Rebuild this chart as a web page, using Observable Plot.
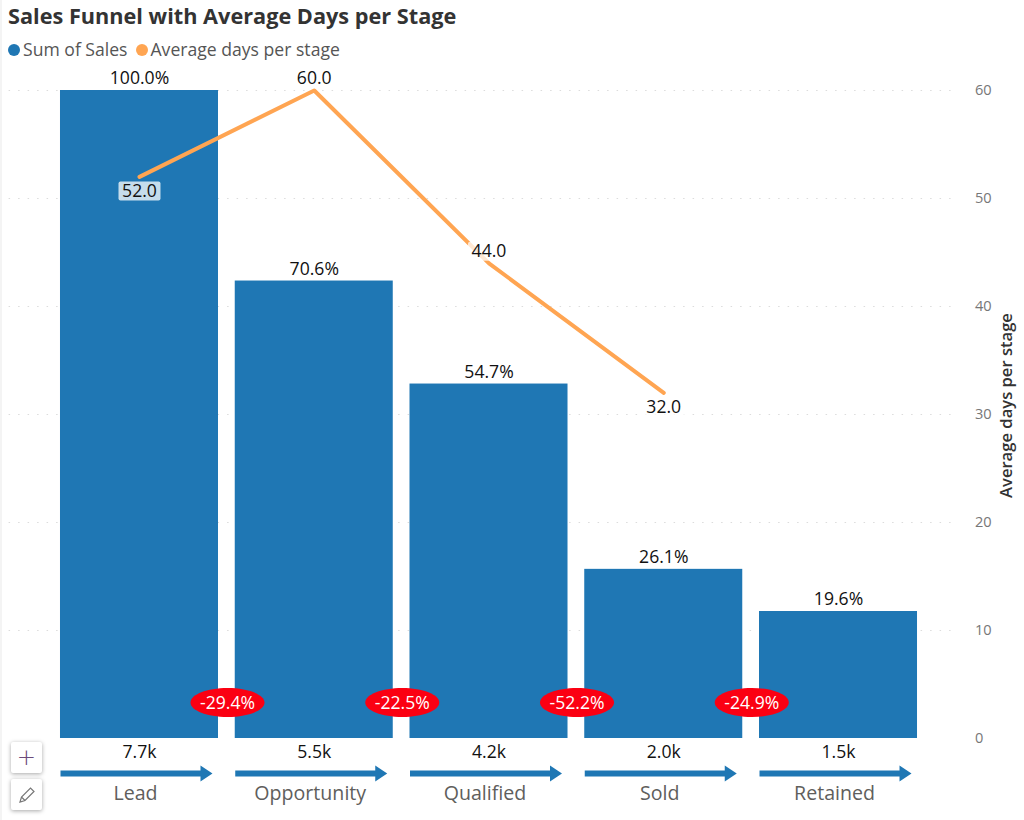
<!DOCTYPE html>
<html>
<head>
<meta charset="utf-8">
<script src="https://cdn.jsdelivr.net/npm/d3@7"></script>
<script src="https://cdn.jsdelivr.net/npm/@observablehq/plot@0.6"></script>
<style>
html,body{margin:0;padding:0;background:#fff;width:1024px;height:820px;overflow:hidden;font-family:"Open Sans",sans-serif}
#wrap{position:relative;width:1024px;height:820px}
#edge{position:absolute;left:0;top:0;width:2px;height:820px;background:#f4f4f4}
#title{position:absolute;left:8px;top:2px;font-size:21.7px;font-weight:700;color:#333;line-height:28px;white-space:nowrap}
#legend{position:absolute;left:8px;top:38px;font-size:17.6px;color:#555;line-height:23px;white-space:nowrap}
#legend i{display:inline-block;width:12px;height:12px;border-radius:50%;margin-right:3px;vertical-align:0px}
#legend span{margin-right:8px}
#chart{position:absolute;left:0;top:64px}
.btn{position:absolute;left:11px;width:31px;height:31px;background:#fff;box-shadow:0 1px 4px rgba(0,0,0,.35);border-radius:2px;display:flex;align-items:center;justify-content:center;color:#6b4a7a;font-size:23px;line-height:1;font-family:"DejaVu Sans",sans-serif;font-weight:300}
</style>
</head>
<body>
<div id="wrap">
<div id="edge"></div>
<div id="title">Sales Funnel with Average Days per Stage</div>
<div id="legend"><span><i style="background:#1f77b4"></i>Sum of Sales</span><span><i style="background:#ffa552"></i>Average days per stage</span></div>
<div id="chart"></div>
<div class="btn" style="top:742px">+</div>
<div class="btn" style="top:779px"><svg width="18" height="18" viewBox="0 0 18 18" fill="none" stroke="#777" stroke-width="1.2"><path d="M2 16 L3.5 11 L12.5 2 L16 5.5 L7 14.5 Z M3.5 11 L7 14.5"/></svg></div>
</div>
<script>
const stages = ["Lead","Opportunity","Qualified","Sold","Retained"];
const sales = [7700,5436,4212,2010,1509];
const salesLabels = ["7.7k","5.5k","4.2k","2.0k","1.5k"];
const shares = ["100.0%","70.6%","54.7%","26.1%","19.6%"];
const changes = ["-29.4%","-22.5%","-52.2%","-24.9%",null];
const days = [52,60,44,32,null];
const labelsBelowPoint = ["Lead","Sold"];
const yTicks = [0,10,20,30,40,50,60];

const rows = stages.map((stage,i)=>({stage,sales:sales[i],salesLabel:salesLabels[i],share:shares[i],change:changes[i],days:days[i]}));
const barHeight = d => d.sales/d3.max(sales)*60;   // bars fill the shared 0-60 axis

const ellipse = {draw(c){
  const a=37,b=14.5,k=.5523;
  c.moveTo(-a,0);
  c.bezierCurveTo(-a,-k*b,-k*a,-b,0,-b);
  c.bezierCurveTo(k*a,-b,a,-k*b,a,0);
  c.bezierCurveTo(a,k*b,k*a,b,0,b);
  c.bezierCurveTo(-k*a,b,-a,k*b,-a,0);
  c.closePath();
}};
const arrowShape = {draw(c){
  c.moveTo(-79,-3);c.lineTo(61,-3);c.lineTo(61,-8);c.lineTo(73,0);
  c.lineTo(61,8);c.lineTo(61,3);c.lineTo(-79,3);c.closePath();
}};
const labelBox = {draw(c){
  const w=21,h=9.5,r=2;
  c.moveTo(-w+r,-h);c.lineTo(w-r,-h);c.arcTo(w,-h,w,-h+r,r);c.lineTo(w,h-r);c.arcTo(w,h,w-r,h,r);
  c.lineTo(-w+r,h);c.arcTo(-w,h,-w,h-r,r);c.lineTo(-w,-h+r);c.arcTo(-w,-h,-w+r,-h,r);c.closePath();
}};

const withDays = rows.filter(d=>d.days!=null);
const below = withDays.filter(d=>labelsBelowPoint.includes(d.stage));
const above = withDays.filter(d=>!labelsBelowPoint.includes(d.stage));
const withChange = rows.filter(d=>d.change!=null);
const dayLabels = (data,dy)=>[
  Plot.dot(data,{x:"stage",y:"days",dy,symbol:labelBox,fill:"#fff",fillOpacity:.75,stroke:null}),
  Plot.text(data,{x:"stage",y:"days",dy,text:d=>d.days.toFixed(1),fontSize:17.6,fill:"#111"})
];

const plot = Plot.plot({
  width:1024,height:756,
  marginTop:26,marginBottom:82,marginLeft:51.6,marginRight:98.6,
  style:{fontFamily:'"Open Sans",sans-serif',background:"transparent",overflow:"visible"},
  x:{domain:stages,paddingInner:.0958,paddingOuter:.048,round:false,label:null},
  y:{domain:[0,60],label:null},
  marks:[
    Plot.ruleY(yTicks.slice(1),{stroke:"#dcdcdc",strokeWidth:1.2,strokeDasharray:"1.5 8",insetLeft:-43,insetRight:-31}),
    Plot.barY(rows,{x:"stage",y:barHeight,fill:"#1f77b4"}),
    Plot.text(rows,{x:"stage",y:barHeight,dy:-12,text:"share",fontSize:17.6,fill:"#111"}),
    Plot.dot(rows,{x:"stage",y:()=>0,dy:35,symbol:arrowShape,fill:"#1f77b4",stroke:null}),
    Plot.text(rows,{x:"stage",y:()=>0,dy:14,text:"salesLabel",fontSize:17.6,fill:"#111"}),
    Plot.dot(withChange,{x:"stage",y:()=>0,dx:88,dy:-36,symbol:ellipse,fill:"#fb0012",stroke:null}),
    Plot.text(withChange,{x:"stage",y:()=>0,dx:88,dy:-35,text:"change",fontSize:17.6,fill:"#fff"}),
    Plot.line(withDays,{x:"stage",y:"days",stroke:"#ffa552",strokeWidth:4,curve:"linear"}),
    ...dayLabels(above,-12),
    ...dayLabels(below,14),
    Plot.axisX({anchor:"bottom",tickSize:0,tickPadding:48,dx:-4,fontSize:19.6,color:"#605e5c",label:null}),
    Plot.axisY({anchor:"right",ticks:yTicks,tickSize:0,tickPadding:49,fontSize:14.6,color:"#777",label:null}),
    Plot.text(["Average days per stage"],{frameAnchor:"right",textAnchor:"middle",dx:81,dy:-9,rotate:-90,fontSize:16.6,fontWeight:600,fill:"#333",text:d=>d})
  ]
});
document.getElementById("chart").appendChild(plot);
</script>
</body>
</html>
